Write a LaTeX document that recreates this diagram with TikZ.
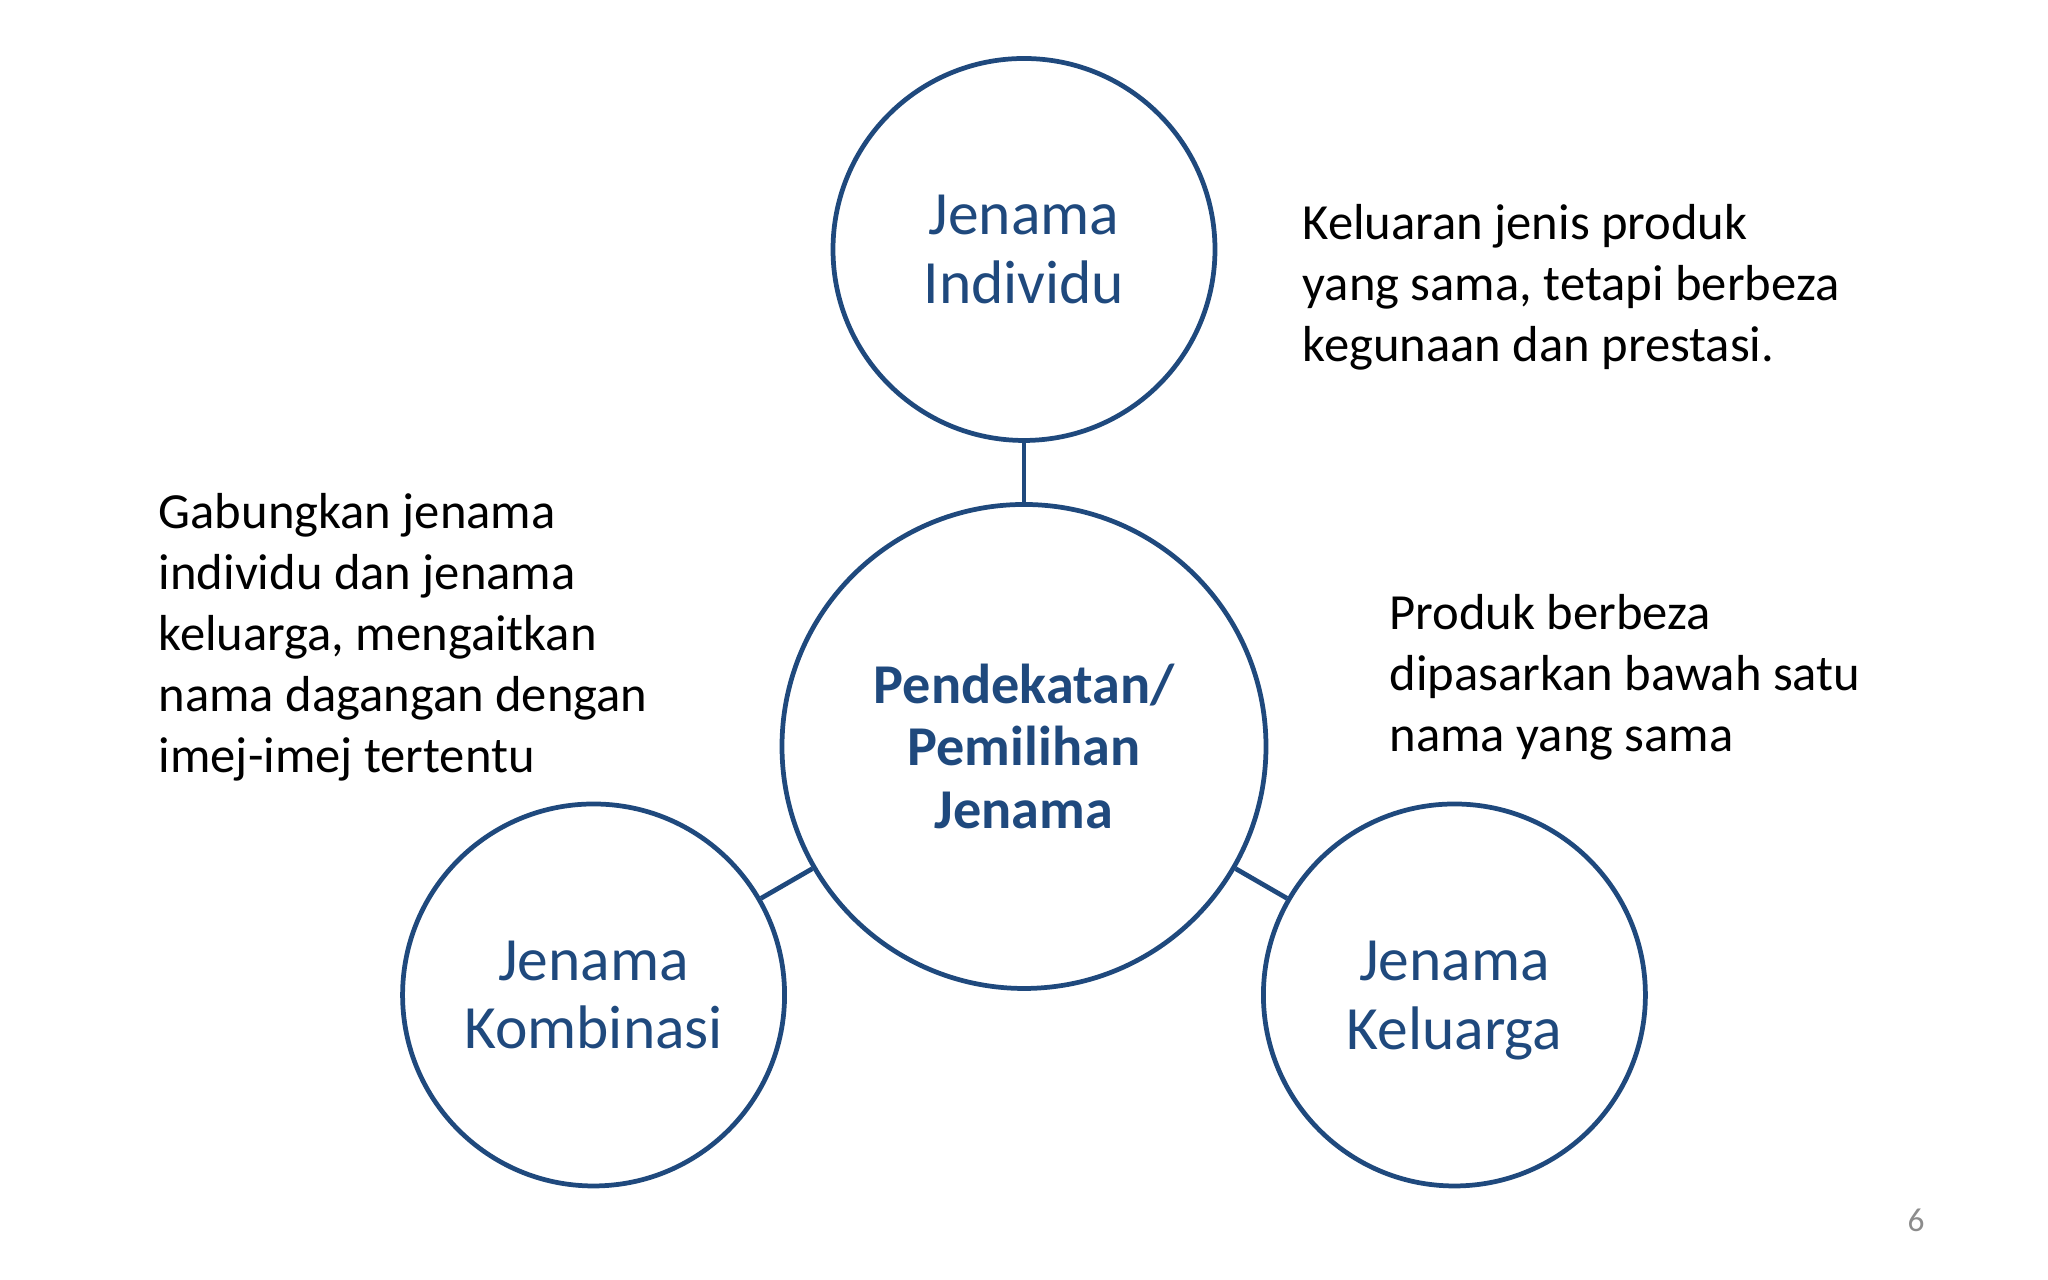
\documentclass[tikz,border=0pt]{standalone}
\usepackage{fontspec}
\setmainfont{Carlito}
\usepackage{tikz}
\usepackage{xcolor}
\usetikzlibrary{calc}
\definecolor{brandblue}{HTML}{1F497D}
\definecolor{pagegrey}{HTML}{8C8C8C}
\tikzset{%
	hub/.style   = {draw=brandblue, circle, line width=1.35pt, minimum size=4.84cm, inner sep=0pt, text=brandblue, align=center, font=\fontsize{16}{17.8}\selectfont\bfseries},
	brand/.style = {draw=brandblue, circle, line width=1.35pt, minimum size=3.82cm, inner sep=0pt, text=brandblue, align=center, font=\fontsize{17.5}{19.6}\selectfont},
	note/.style  = {anchor=base west, inner sep=0pt, align=left, font=\fontsize{14.4}{17.4}\selectfont},
	link/.style  = {draw=brandblue, line width=1.35pt},
}

\begin{document}
\begin{tikzpicture}
	\useasboundingbox (0,0) rectangle (20.48,12.8);
	
	\node[hub] (pendekatan) at (10.24,5.335) {Pendekatan/\\Pemilihan\\Jenama};
	
	\node[brand] (individu) at ($(pendekatan)+(90:4.97)$) {Jenama\\Individu};
	\node[brand] (kombinasi) at ($(pendekatan)+(210:4.97)$) {Jenama\\Kombinasi};
	\node[brand] (keluarga) at ($(pendekatan)+(330:4.97)$) {Jenama\\\smash{Keluarga}};
	
	\foreach \b in {individu,kombinasi,keluarga} \draw[link] (pendekatan) -- (\b);
	
	% base west = baseline of the last line
	\node[note] (ketIndividu) at (13.02,9.18) {Keluaran jenis produk\\yang sama, tetapi berbeza\\kegunaan dan prestasi.};
	\node[note] (ketKombinasi) at (1.58,5.07) {Gabungkan jenama\\individu dan jenama\\keluarga, mengaitkan\\nama dagangan dengan\\imej-imej tertentu};
	\node[note] (ketKeluarga) at (13.89,5.28) {Produk berbeza\\dipasarkan bawah satu\\nama yang sama};
	
	\node[anchor=base, text=pagegrey, font=\fontsize{9.5}{11}\selectfont] (halaman) at (19.16,0.48) {6};
\end{tikzpicture}
\end{document}
